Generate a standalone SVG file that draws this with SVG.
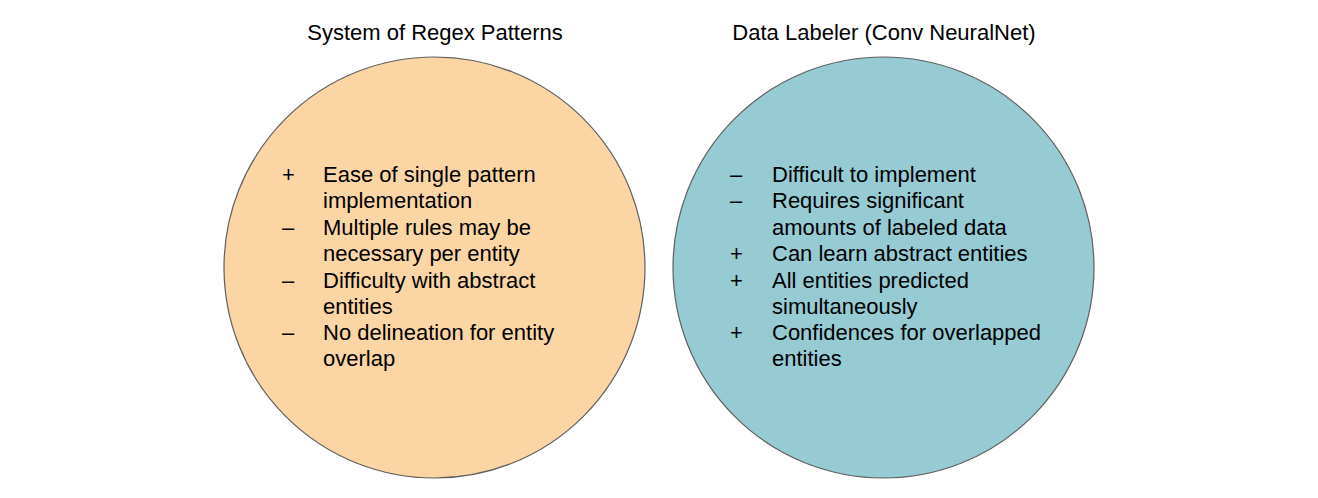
<svg xmlns="http://www.w3.org/2000/svg" width="1318" height="498" viewBox="0 0 1318 498">
<style>
text{font-family:"Liberation Sans",Arial,sans-serif;font-size:22px;fill:#000}
.c{stroke:#5f5f5f;stroke-width:1.2}
</style>
<rect width="1318" height="498" fill="#fff"/>
<g id="regex">
<circle class="c" cx="434.5" cy="267.5" r="210.5" fill="#fcd5a5"/>
<text x="435" y="40" text-anchor="middle">System of Regex Patterns</text>
<text x="282" y="182">+</text><text x="323" y="182">Ease of single pattern</text>
<text x="323" y="208">implementation</text>
<text x="282" y="235">–</text><text x="323" y="235">Multiple rules may be</text>
<text x="323" y="261">necessary per entity</text>
<text x="282" y="288">–</text><text x="323" y="288">Difficulty with abstract</text>
<text x="323" y="314">entities</text>
<text x="282" y="340">–</text><text x="323" y="340">No delineation for entity</text>
<text x="323" y="366">overlap</text>
</g>
<g id="labeler">
<circle class="c" cx="883.5" cy="267.5" r="210.5" fill="#96cbd4"/>
<text x="884" y="40" text-anchor="middle">Data Labeler (Conv NeuralNet)</text>
<text x="730" y="182">–</text><text x="772" y="182">Difficult to implement</text>
<text x="730" y="208">–</text><text x="772" y="208">Requires significant</text>
<text x="772" y="235">amounts of labeled data</text>
<text x="730" y="261">+</text><text x="772" y="261">Can learn abstract entities</text>
<text x="730" y="288">+</text><text x="772" y="288">All entities predicted</text>
<text x="772" y="314">simultaneously</text>
<text x="730" y="340">+</text><text x="772" y="340">Confidences for overlapped</text>
<text x="772" y="366">entities</text>
</g>
<g id="connectors"/>
</svg>
